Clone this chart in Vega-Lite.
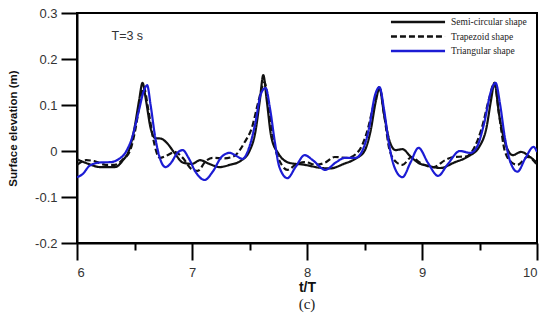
{
  "$schema": "https://vega.github.io/schema/vega-lite/v6.json",
  "width": 460,
  "height": 230,
  "autosize": {"type": "none"},
  "padding": {"left": 77, "top": 13, "right": 13, "bottom": 82},
  "background": "white",
  "config": {
    "view": {"stroke": "black", "strokeWidth": 2},
    "axis": {
      "grid": false,
      "domainColor": "black",
      "domainWidth": 2,
      "tickColor": "black",
      "tickWidth": 2,
      "labelFont": "Liberation Sans",
      "labelColor": "#333333",
      "labelFontSize": 13,
      "titleFont": "Liberation Sans",
      "titleFontWeight": "bold",
      "titleColor": "#111111"
    },
    "legend": {
      "orient": "none",
      "legendX": 334,
      "legendY": 2,
      "symbolType": "M-5,0H5",
      "symbolSize": 117,
      "symbolStrokeWidth": 2.4,
      "labelFont": "Liberation Serif",
      "labelFontSize": 9.5,
      "labelColor": "#222222",
      "labelOffset": 26,
      "rowPadding": 2.5,
      "padding": 0
    }
  },
  "title": {
    "text": "(c)",
    "orient": "bottom",
    "font": "Liberation Serif",
    "fontSize": 15,
    "fontWeight": "normal",
    "color": "#222222",
    "offset": 3
  },
  "layer": [
    {
      "data": {
        "values": [
          {"shape": "Semi-circular shape", "t": 6.00, "eta": -0.018},
          {"shape": "Semi-circular shape", "t": 6.10, "eta": -0.028},
          {"shape": "Semi-circular shape", "t": 6.20, "eta": -0.035},
          {"shape": "Semi-circular shape", "t": 6.33, "eta": -0.035},
          {"shape": "Semi-circular shape", "t": 6.40, "eta": -0.020},
          {"shape": "Semi-circular shape", "t": 6.45, "eta": 0.000},
          {"shape": "Semi-circular shape", "t": 6.50, "eta": 0.050},
          {"shape": "Semi-circular shape", "t": 6.54, "eta": 0.110},
          {"shape": "Semi-circular shape", "t": 6.57, "eta": 0.148},
          {"shape": "Semi-circular shape", "t": 6.60, "eta": 0.110},
          {"shape": "Semi-circular shape", "t": 6.64, "eta": 0.050},
          {"shape": "Semi-circular shape", "t": 6.68, "eta": 0.028},
          {"shape": "Semi-circular shape", "t": 6.73, "eta": 0.027},
          {"shape": "Semi-circular shape", "t": 6.78, "eta": 0.018},
          {"shape": "Semi-circular shape", "t": 6.85, "eta": -0.005},
          {"shape": "Semi-circular shape", "t": 6.92, "eta": -0.025},
          {"shape": "Semi-circular shape", "t": 7.00, "eta": -0.028},
          {"shape": "Semi-circular shape", "t": 7.07, "eta": -0.020},
          {"shape": "Semi-circular shape", "t": 7.15, "eta": -0.028},
          {"shape": "Semi-circular shape", "t": 7.24, "eta": -0.035},
          {"shape": "Semi-circular shape", "t": 7.33, "eta": -0.030},
          {"shape": "Semi-circular shape", "t": 7.42, "eta": -0.022},
          {"shape": "Semi-circular shape", "t": 7.50, "eta": 0.000},
          {"shape": "Semi-circular shape", "t": 7.55, "eta": 0.040},
          {"shape": "Semi-circular shape", "t": 7.59, "eta": 0.110},
          {"shape": "Semi-circular shape", "t": 7.62, "eta": 0.165},
          {"shape": "Semi-circular shape", "t": 7.65, "eta": 0.110},
          {"shape": "Semi-circular shape", "t": 7.69, "eta": 0.030},
          {"shape": "Semi-circular shape", "t": 7.75, "eta": -0.005},
          {"shape": "Semi-circular shape", "t": 7.85, "eta": -0.026},
          {"shape": "Semi-circular shape", "t": 7.98, "eta": -0.030},
          {"shape": "Semi-circular shape", "t": 8.10, "eta": -0.036},
          {"shape": "Semi-circular shape", "t": 8.20, "eta": -0.038},
          {"shape": "Semi-circular shape", "t": 8.32, "eta": -0.028},
          {"shape": "Semi-circular shape", "t": 8.42, "eta": -0.017},
          {"shape": "Semi-circular shape", "t": 8.50, "eta": 0.000},
          {"shape": "Semi-circular shape", "t": 8.55, "eta": 0.040},
          {"shape": "Semi-circular shape", "t": 8.60, "eta": 0.110},
          {"shape": "Semi-circular shape", "t": 8.63, "eta": 0.137},
          {"shape": "Semi-circular shape", "t": 8.67, "eta": 0.080},
          {"shape": "Semi-circular shape", "t": 8.72, "eta": 0.020},
          {"shape": "Semi-circular shape", "t": 8.77, "eta": 0.002},
          {"shape": "Semi-circular shape", "t": 8.83, "eta": 0.004},
          {"shape": "Semi-circular shape", "t": 8.90, "eta": -0.012},
          {"shape": "Semi-circular shape", "t": 8.97, "eta": -0.026},
          {"shape": "Semi-circular shape", "t": 9.05, "eta": -0.032},
          {"shape": "Semi-circular shape", "t": 9.16, "eta": -0.037},
          {"shape": "Semi-circular shape", "t": 9.28, "eta": -0.025},
          {"shape": "Semi-circular shape", "t": 9.40, "eta": -0.012},
          {"shape": "Semi-circular shape", "t": 9.50, "eta": 0.010},
          {"shape": "Semi-circular shape", "t": 9.56, "eta": 0.050},
          {"shape": "Semi-circular shape", "t": 9.60, "eta": 0.110},
          {"shape": "Semi-circular shape", "t": 9.63, "eta": 0.148},
          {"shape": "Semi-circular shape", "t": 9.67, "eta": 0.080},
          {"shape": "Semi-circular shape", "t": 9.72, "eta": 0.020},
          {"shape": "Semi-circular shape", "t": 9.79, "eta": -0.009},
          {"shape": "Semi-circular shape", "t": 9.86, "eta": -0.002},
          {"shape": "Semi-circular shape", "t": 9.94, "eta": -0.013},
          {"shape": "Semi-circular shape", "t": 10.00, "eta": -0.026},

          {"shape": "Trapezoid shape", "t": 6.00, "eta": -0.030},
          {"shape": "Trapezoid shape", "t": 6.08, "eta": -0.020},
          {"shape": "Trapezoid shape", "t": 6.15, "eta": -0.022},
          {"shape": "Trapezoid shape", "t": 6.25, "eta": -0.030},
          {"shape": "Trapezoid shape", "t": 6.33, "eta": -0.030},
          {"shape": "Trapezoid shape", "t": 6.40, "eta": -0.018},
          {"shape": "Trapezoid shape", "t": 6.46, "eta": 0.000},
          {"shape": "Trapezoid shape", "t": 6.51, "eta": 0.050},
          {"shape": "Trapezoid shape", "t": 6.55, "eta": 0.110},
          {"shape": "Trapezoid shape", "t": 6.58, "eta": 0.139},
          {"shape": "Trapezoid shape", "t": 6.62, "eta": 0.090},
          {"shape": "Trapezoid shape", "t": 6.66, "eta": 0.030},
          {"shape": "Trapezoid shape", "t": 6.72, "eta": -0.015},
          {"shape": "Trapezoid shape", "t": 6.78, "eta": -0.010},
          {"shape": "Trapezoid shape", "t": 6.85, "eta": -0.002},
          {"shape": "Trapezoid shape", "t": 6.92, "eta": -0.015},
          {"shape": "Trapezoid shape", "t": 7.00, "eta": -0.040},
          {"shape": "Trapezoid shape", "t": 7.05, "eta": -0.043},
          {"shape": "Trapezoid shape", "t": 7.12, "eta": -0.022},
          {"shape": "Trapezoid shape", "t": 7.18, "eta": -0.015},
          {"shape": "Trapezoid shape", "t": 7.28, "eta": -0.016},
          {"shape": "Trapezoid shape", "t": 7.36, "eta": -0.012},
          {"shape": "Trapezoid shape", "t": 7.46, "eta": 0.020},
          {"shape": "Trapezoid shape", "t": 7.52, "eta": 0.050},
          {"shape": "Trapezoid shape", "t": 7.58, "eta": 0.110},
          {"shape": "Trapezoid shape", "t": 7.63, "eta": 0.150},
          {"shape": "Trapezoid shape", "t": 7.67, "eta": 0.090},
          {"shape": "Trapezoid shape", "t": 7.72, "eta": 0.010},
          {"shape": "Trapezoid shape", "t": 7.78, "eta": -0.030},
          {"shape": "Trapezoid shape", "t": 7.83, "eta": -0.041},
          {"shape": "Trapezoid shape", "t": 7.90, "eta": -0.030},
          {"shape": "Trapezoid shape", "t": 7.98, "eta": -0.024},
          {"shape": "Trapezoid shape", "t": 8.08, "eta": -0.030},
          {"shape": "Trapezoid shape", "t": 8.16, "eta": -0.025},
          {"shape": "Trapezoid shape", "t": 8.24, "eta": -0.013},
          {"shape": "Trapezoid shape", "t": 8.35, "eta": -0.015},
          {"shape": "Trapezoid shape", "t": 8.45, "eta": 0.000},
          {"shape": "Trapezoid shape", "t": 8.52, "eta": 0.040},
          {"shape": "Trapezoid shape", "t": 8.58, "eta": 0.100},
          {"shape": "Trapezoid shape", "t": 8.63, "eta": 0.139},
          {"shape": "Trapezoid shape", "t": 8.67, "eta": 0.080},
          {"shape": "Trapezoid shape", "t": 8.72, "eta": 0.000},
          {"shape": "Trapezoid shape", "t": 8.78, "eta": -0.025},
          {"shape": "Trapezoid shape", "t": 8.83, "eta": -0.030},
          {"shape": "Trapezoid shape", "t": 8.91, "eta": -0.013},
          {"shape": "Trapezoid shape", "t": 8.98, "eta": -0.025},
          {"shape": "Trapezoid shape", "t": 9.05, "eta": -0.033},
          {"shape": "Trapezoid shape", "t": 9.10, "eta": -0.035},
          {"shape": "Trapezoid shape", "t": 9.20, "eta": -0.020},
          {"shape": "Trapezoid shape", "t": 9.27, "eta": -0.013},
          {"shape": "Trapezoid shape", "t": 9.38, "eta": -0.012},
          {"shape": "Trapezoid shape", "t": 9.46, "eta": 0.010},
          {"shape": "Trapezoid shape", "t": 9.52, "eta": 0.050},
          {"shape": "Trapezoid shape", "t": 9.58, "eta": 0.110},
          {"shape": "Trapezoid shape", "t": 9.63, "eta": 0.148},
          {"shape": "Trapezoid shape", "t": 9.67, "eta": 0.080},
          {"shape": "Trapezoid shape", "t": 9.72, "eta": 0.000},
          {"shape": "Trapezoid shape", "t": 9.78, "eta": -0.025},
          {"shape": "Trapezoid shape", "t": 9.83, "eta": -0.030},
          {"shape": "Trapezoid shape", "t": 9.92, "eta": -0.013},
          {"shape": "Trapezoid shape", "t": 10.00, "eta": -0.030},

          {"shape": "Triangular shape", "t": 6.00, "eta": -0.057},
          {"shape": "Triangular shape", "t": 6.05, "eta": -0.050},
          {"shape": "Triangular shape", "t": 6.11, "eta": -0.032},
          {"shape": "Triangular shape", "t": 6.20, "eta": -0.025},
          {"shape": "Triangular shape", "t": 6.30, "eta": -0.024},
          {"shape": "Triangular shape", "t": 6.36, "eta": -0.018},
          {"shape": "Triangular shape", "t": 6.42, "eta": -0.004},
          {"shape": "Triangular shape", "t": 6.48, "eta": 0.030},
          {"shape": "Triangular shape", "t": 6.54, "eta": 0.090},
          {"shape": "Triangular shape", "t": 6.58, "eta": 0.130},
          {"shape": "Triangular shape", "t": 6.61, "eta": 0.143},
          {"shape": "Triangular shape", "t": 6.64, "eta": 0.100},
          {"shape": "Triangular shape", "t": 6.68, "eta": 0.030},
          {"shape": "Triangular shape", "t": 6.72, "eta": -0.015},
          {"shape": "Triangular shape", "t": 6.77, "eta": -0.035},
          {"shape": "Triangular shape", "t": 6.82, "eta": -0.025},
          {"shape": "Triangular shape", "t": 6.87, "eta": -0.005},
          {"shape": "Triangular shape", "t": 6.92, "eta": 0.002},
          {"shape": "Triangular shape", "t": 6.97, "eta": -0.015},
          {"shape": "Triangular shape", "t": 7.03, "eta": -0.045},
          {"shape": "Triangular shape", "t": 7.11, "eta": -0.063},
          {"shape": "Triangular shape", "t": 7.18, "eta": -0.045},
          {"shape": "Triangular shape", "t": 7.26, "eta": -0.012},
          {"shape": "Triangular shape", "t": 7.33, "eta": -0.004},
          {"shape": "Triangular shape", "t": 7.38, "eta": -0.010},
          {"shape": "Triangular shape", "t": 7.44, "eta": -0.017},
          {"shape": "Triangular shape", "t": 7.50, "eta": 0.010},
          {"shape": "Triangular shape", "t": 7.55, "eta": 0.060},
          {"shape": "Triangular shape", "t": 7.60, "eta": 0.125},
          {"shape": "Triangular shape", "t": 7.64, "eta": 0.137},
          {"shape": "Triangular shape", "t": 7.68, "eta": 0.090},
          {"shape": "Triangular shape", "t": 7.72, "eta": 0.020},
          {"shape": "Triangular shape", "t": 7.76, "eta": -0.035},
          {"shape": "Triangular shape", "t": 7.83, "eta": -0.059},
          {"shape": "Triangular shape", "t": 7.90, "eta": -0.035},
          {"shape": "Triangular shape", "t": 7.98, "eta": -0.009},
          {"shape": "Triangular shape", "t": 8.05, "eta": -0.020},
          {"shape": "Triangular shape", "t": 8.16, "eta": -0.041},
          {"shape": "Triangular shape", "t": 8.25, "eta": -0.025},
          {"shape": "Triangular shape", "t": 8.33, "eta": -0.015},
          {"shape": "Triangular shape", "t": 8.42, "eta": -0.015},
          {"shape": "Triangular shape", "t": 8.48, "eta": 0.000},
          {"shape": "Triangular shape", "t": 8.54, "eta": 0.050},
          {"shape": "Triangular shape", "t": 8.59, "eta": 0.120},
          {"shape": "Triangular shape", "t": 8.63, "eta": 0.139},
          {"shape": "Triangular shape", "t": 8.67, "eta": 0.090},
          {"shape": "Triangular shape", "t": 8.71, "eta": 0.020},
          {"shape": "Triangular shape", "t": 8.76, "eta": -0.035},
          {"shape": "Triangular shape", "t": 8.83, "eta": -0.057},
          {"shape": "Triangular shape", "t": 8.90, "eta": -0.025},
          {"shape": "Triangular shape", "t": 8.97, "eta": 0.007},
          {"shape": "Triangular shape", "t": 9.05, "eta": -0.025},
          {"shape": "Triangular shape", "t": 9.14, "eta": -0.054},
          {"shape": "Triangular shape", "t": 9.22, "eta": -0.030},
          {"shape": "Triangular shape", "t": 9.33, "eta": 0.000},
          {"shape": "Triangular shape", "t": 9.42, "eta": -0.004},
          {"shape": "Triangular shape", "t": 9.48, "eta": 0.010},
          {"shape": "Triangular shape", "t": 9.54, "eta": 0.060},
          {"shape": "Triangular shape", "t": 9.60, "eta": 0.130},
          {"shape": "Triangular shape", "t": 9.64, "eta": 0.148},
          {"shape": "Triangular shape", "t": 9.68, "eta": 0.100},
          {"shape": "Triangular shape", "t": 9.72, "eta": 0.030},
          {"shape": "Triangular shape", "t": 9.77, "eta": -0.025},
          {"shape": "Triangular shape", "t": 9.83, "eta": -0.045},
          {"shape": "Triangular shape", "t": 9.90, "eta": -0.015},
          {"shape": "Triangular shape", "t": 9.97, "eta": 0.009},
          {"shape": "Triangular shape", "t": 10.00, "eta": -0.002}
        ]
      },
      "mark": {"type": "line", "interpolate": "monotone", "strokeWidth": 2.2, "clip": true},
      "encoding": {
        "x": {
          "field": "t",
          "type": "quantitative",
          "title": "t/T",
          "scale": {"domain": [6, 10], "nice": false, "zero": false},
          "axis": {
            "values": [6, 6.5, 7, 7.5, 8, 8.5, 9, 9.5, 10],
            "labelExpr": "round(datum.value*2) % 2 === 0 ? format(datum.value, 'd') : ''",
            "tickSize": {"condition": {"test": "round(datum.value*2) % 2 === 0", "value": 17}, "value": 7},
            "labelPadding": 6,
            "titleFontSize": 14,
            "titlePadding": 1
          }
        },
        "y": {
          "field": "eta",
          "type": "quantitative",
          "title": "Surface elevation (m)",
          "scale": {"domain": [-0.2, 0.3], "nice": false, "zero": false},
          "axis": {
            "values": [-0.2, -0.15, -0.1, -0.05, 0, 0.05, 0.1, 0.15, 0.2, 0.25, 0.3],
            "labelExpr": "round(datum.value*20) % 2 === 0 ? (abs(datum.value) < 0.001 ? '0' : replace(format(datum.value, '.1f'), '\u2212', '-')) : ''",
            "tickSize": {"condition": {"test": "round(datum.value*20) % 2 === 0", "value": 16}, "value": 8},
            "labelPadding": 4,
            "titleFontSize": 11.5,
            "titlePadding": 16
          }
        },
        "color": {
          "field": "shape",
          "type": "nominal",
          "title": null,
          "scale": {"domain": ["Semi-circular shape", "Trapezoid shape", "Triangular shape"], "range": ["#111111", "#111111", "#1c1cd4"]}
        },
        "strokeDash": {
          "field": "shape",
          "type": "nominal",
          "title": null,
          "scale": {"domain": ["Semi-circular shape", "Trapezoid shape", "Triangular shape"], "range": [[1, 0], [6, 3], [1, 0]]}
        }
      }
    },
    {
      "data": {"values": [{"t": 6.3, "eta": 0.25, "label": "T=3 s"}]},
      "mark": {"type": "text", "align": "left", "baseline": "middle", "font": "Liberation Sans", "fontSize": 12.5, "color": "#333333"},
      "encoding": {
        "x": {"field": "t", "type": "quantitative"},
        "y": {"field": "eta", "type": "quantitative"},
        "text": {"field": "label"}
      }
    }
  ]
}
